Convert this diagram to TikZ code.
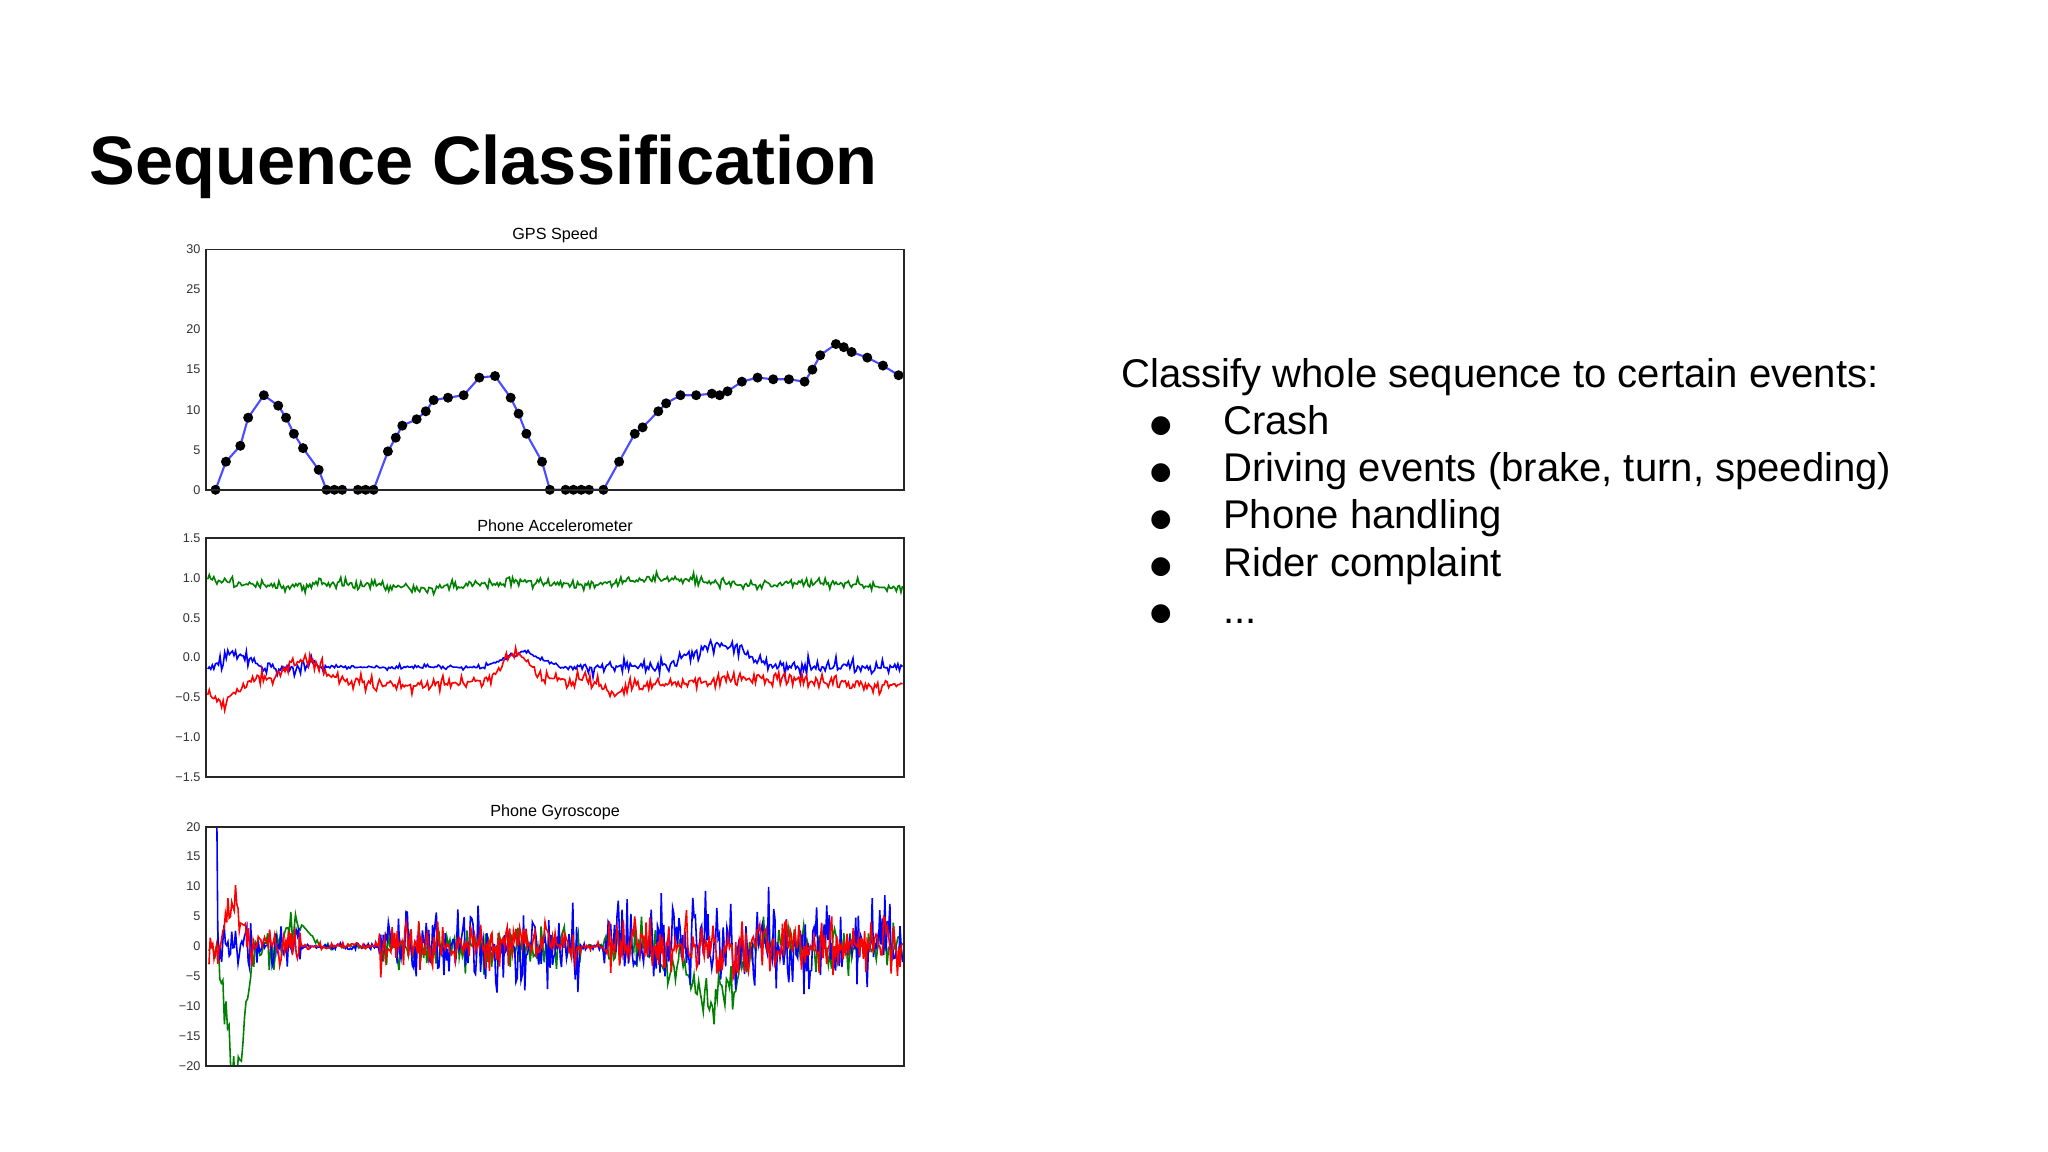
\documentclass[tikz,border=0pt]{standalone}
\usepackage{fontspec}
\setmainfont{Liberation Sans}
\newfontfamily\symf{DejaVu Sans}
\begin{document}
\begin{tikzpicture}[x=0.01306cm,y=-0.01306cm,
  tick/.style={font=\fontsize{3.6}{4}\selectfont, anchor=east, text=black!80, inner sep=1.5pt},
  ptitle/.style={font=\fontsize{4.6}{5}\selectfont, anchor=south, inner sep=1pt},
  frame/.style={draw=black!85, line width=0.5pt},
  sig/.style={line width=0.45pt},
  txt/.style={anchor=base west, font=\fontsize{11.4}{14}\selectfont, inner sep=0},
  declare function={bump(\x,\c,\w)=max(0,1-abs(\x-\c)/\w); spk=rand*abs(rand)*1.6;}]
\useasboundingbox[fill=white] (0,0) rectangle (1568,882);
\pgfmathsetseed{7}
\node[anchor=base west, font=\fontsize{19.5}{24}\bfseries, inner sep=0] (title) at (68,141) {Sequence Classification};
% GPS
\node[ptitle] (t1) at (425,189) {GPS Speed};
\foreach \v in {0,5,10,15,20,25,30} \node[tick] at (158,{375-6.133*\v}) {\v};
\draw[blue!70, line width=0.6pt] plot[mark=*, mark size=1.1pt, mark options={fill=black,draw=black}] coordinates {
(165,375)(173,353.5)(184,341.3)(190,319.8)(202,302.6)(213,310.6)(219,319.8)(225,332.1)(232,343.1)(244,359.7)(250,375)(256,375)(262,375)(274,375)(280,375)(286,375)(297,345.6)(303,335.1)(308,325.9)(319,321)(326,314.9)(332,306.3)(343,304.5)(355,302.6)(367,289.1)(379,287.9)(391,304.5)(397,316.7)(403,332.1)(415,353.5)(421,375)(433,375)(439,375)(445,375)(451,375)(462,375)(474,353.5)(486,332.1)(492,327.2)(504,314.9)(510,308.8)(521,302.6)(533,302.6)(545,301.4)(551,302.6)(557,299.6)(568,292.2)(580,289.1)(592,290.4)(604,290.4)(616,292.2)(622,283)(628,272)(640,263.4)(646,265.8)(652,269.5)(664,273.8)(676,279.9)(688,287.3)};
\draw[frame] (158,191) rectangle (692,375);
% Accelerometer
\node[ptitle] (t2) at (425,410) {Phone Accelerometer};
\foreach \v/\l in {1.5/1.5,1.0/1.0,0.5/0.5,0/0.0,-0.5/−0.5,-1.0/−1.0,-1.5/−1.5} \node[tick] at (158,{503.5-61*\v}) {\l};
\draw[sig, green!50!black] plot[domain=159:691, samples=450] (\x,{503.5-61*(0.93+0.03*sin(\x*3)+0.03*sin(\x*0.9)+0.06*spk)});
\draw[sig, blue] plot[domain=159:691, samples=450] (\x,{503.5-61*(-0.12+0.2*bump(\x,180,20)+0.2*bump(\x,400,30)+0.3*bump(\x,550,45)+(\x<250||\x>450?0.09:0.03)*spk)});
\draw[sig, red] plot[domain=159:691, samples=450] (\x,{503.5-61*(-0.3-0.25*bump(\x,170,25)+0.25*bump(\x,235,25)+0.35*bump(\x,395,20)-0.15*bump(\x,470,12)+0.05*sin(\x*2)+0.08*spk)});
\draw[frame] (158,412) rectangle (692,595);
% Gyroscope
\node[ptitle] (t3) at (425,631) {Phone Gyroscope};
\foreach \v/\l in {20/20,15/15,10/10,5/5,0/0,-5/−5,-10/−10,-15/−15,-20/−20} \node[tick] at (158,{724.5-4.575*\v}) {\l};
\begin{scope}
\clip (158,633) rectangle (692,816);
\draw[sig, green!50!black] plot[domain=160:691, samples=450] (\x,{724.5-4.575*(-24*bump(\x,180,14)+4*bump(\x,230,15)-10*bump(\x,545,35)-5*bump(\x,510,10)+(\x<230?3:(\x<290?0.4:(\x<445?3.5:(\x<462?0.4:3.5))))*spk)});
\draw[sig, blue] plot[domain=160:691, samples=550] (\x,{724.5-4.575*((\x<166?25:0)+(\x<230?3:(\x<290?0.5:(\x<445?6:(\x<462?0.5:6.5))))*spk)});
\draw[sig, red] plot[domain=160:691, samples=550] (\x,{724.5-4.575*(8*bump(\x,180,12)+(\x<230?3:(\x<290?0.5:(\x<445?3.5:(\x<462?0.5:4))))*spk)});
\end{scope}
\draw[frame] (158,633) rectangle (692,816);
% right text
\node[txt] (c0) at (858,297) {Classify whole sequence to certain events:};
\node[txt] (c1) at (936,333) {Crash};
\node[txt] (c2) at (936,369) {Driving events (brake, turn, speeding)};
\node[txt] (c3) at (936,405) {Phone handling};
\node[txt] (c4) at (936,441) {Rider complaint};
\node[txt] (c5) at (936,477) {...};
\foreach \i in {1,2,3,4,5}
  \node[txt] (b\i) at (880,{295+36*\i}) {\symf\fontsize{7}{8}\selectfont ●};
\end{tikzpicture}
\end{document}
